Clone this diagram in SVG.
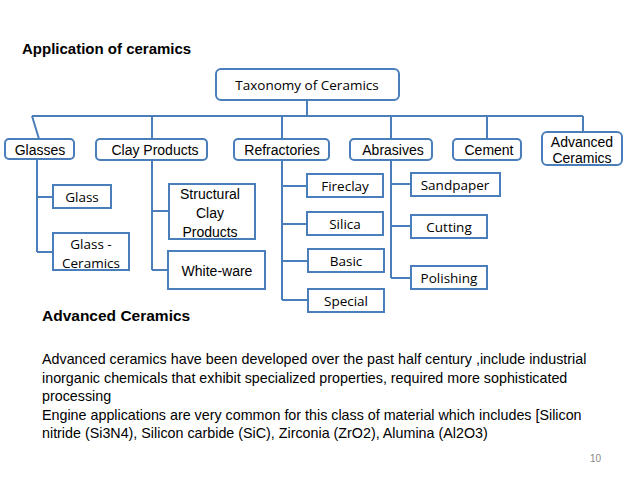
<svg xmlns="http://www.w3.org/2000/svg" width="638" height="478" viewBox="0 0 638 478">
<style>
.b{fill:#fff;stroke:#4a7ebb;stroke-width:2}
.c{fill:none;stroke:#4a7ebb;stroke-width:2}
text{font-family:"Liberation Sans",Arial,sans-serif;fill:#000}
.t{font-size:14px;text-anchor:middle}
.k{font-family:"Open Sans","Liberation Sans",sans-serif;font-size:13.5px;text-anchor:middle}
.p{font-size:14.3px}
</style>
<rect width="638" height="478" fill="#fff"/>
<text x="22" y="54" style="font-size:15px;font-weight:bold">Application of ceramics</text>
<g id="connectors" class="c">
<path d="M307 100V116M32 116H583M32 116L39 139M152 116V139M282 116V139M391 116V139M487 116V139M583 116V132"/>
<path d="M37 159V252M37 197H53M37 252H53"/>
<path d="M152 160V270M152 211H169M152 270H168"/>
<path d="M282 160V300M282 186H307M282 224H307M282 261H308M282 300H308"/>
<path d="M391 160V278M391 184H411M391 226H411M391 278H411"/>
</g>
<g id="taxonomy"><rect class="b" x="216" y="69" width="183" height="31" rx="5"/><text class="k" x="307" y="90">Taxonomy of Ceramics</text></g>
<g id="glasses"><rect class="b" x="5" y="139" width="69" height="20" rx="4"/><text class="t" x="40" y="155">Glasses</text></g>
<g id="clay"><rect class="b" x="96" y="139" width="111" height="21" rx="4"/><text class="t" x="155" y="155">Clay Products</text></g>
<g id="refractories"><rect class="b" x="234" y="139" width="95" height="21" rx="4"/><text class="t" x="282" y="155">Refractories</text></g>
<g id="abrasives"><rect class="b" x="350" y="139" width="82" height="21" rx="4"/><text class="t" x="393" y="155">Abrasives</text></g>
<g id="cement"><rect class="b" x="453" y="139" width="68" height="21" rx="4"/><text class="t" x="489" y="155">Cement</text></g>
<g id="advanced"><rect class="b" x="542" y="132" width="80" height="33" rx="5"/><text class="t" x="582" y="147">Advanced</text><text class="t" x="582" y="163">Ceramics</text></g>
<g id="glass"><rect class="b" x="53" y="185" width="58" height="23"/><text class="k" x="82" y="202">Glass</text></g>
<g id="glassceramics"><rect class="b" x="53" y="233" width="76" height="37"/><text class="k" x="91" y="249">Glass -</text><text class="k" x="91" y="268">Ceramics</text></g>
<g id="structural"><rect class="b" x="169" y="184" width="86" height="55"/><text class="t" x="210" y="199">Structural</text><text class="t" x="210" y="218">Clay</text><text class="t" x="210" y="237">Products</text></g>
<g id="whiteware"><rect class="b" x="168" y="251" width="97" height="38"/><text class="t" x="217" y="276">White-ware</text></g>
<g id="fireclay"><rect class="b" x="307" y="174" width="76" height="23"/><text class="k" x="345" y="191">Fireclay</text></g>
<g id="silica"><rect class="b" x="307" y="212" width="76" height="23"/><text class="k" x="345" y="229">Silica</text></g>
<g id="basic"><rect class="b" x="308" y="249" width="76" height="23"/><text class="k" x="346" y="266">Basic</text></g>
<g id="special"><rect class="b" x="308" y="289" width="76" height="23"/><text class="k" x="346" y="306">Special</text></g>
<g id="sandpaper"><rect class="b" x="411" y="173" width="89" height="23"/><text class="k" x="455" y="190">Sandpaper</text></g>
<g id="cutting"><rect class="b" x="411" y="215" width="76" height="23"/><text class="k" x="449" y="232">Cutting</text></g>
<g id="polishing"><rect class="b" x="411" y="266" width="76" height="23"/><text class="k" x="449" y="283">Polishing</text></g>
<text x="42" y="321" style="font-size:15.5px;font-weight:bold">Advanced Ceramics</text>
<text class="p" x="42" y="364">Advanced ceramics have been developed over the past half century ,include  industrial</text>
<text class="p" x="42" y="383">inorganic chemicals that exhibit specialized properties, required more sophisticated</text>
<text class="p" x="42" y="401">processing</text>
<text class="p" x="42" y="420">Engine applications are very common for this  class of material which includes [Silicon</text>
<text class="p" x="42" y="438">nitride (Si3N4), Silicon carbide (SiC), Zirconia (ZrO2), Alumina (Al2O3)</text>
<text x="590" y="462" style="font-size:10px;fill:#888">10</text>
</svg>
